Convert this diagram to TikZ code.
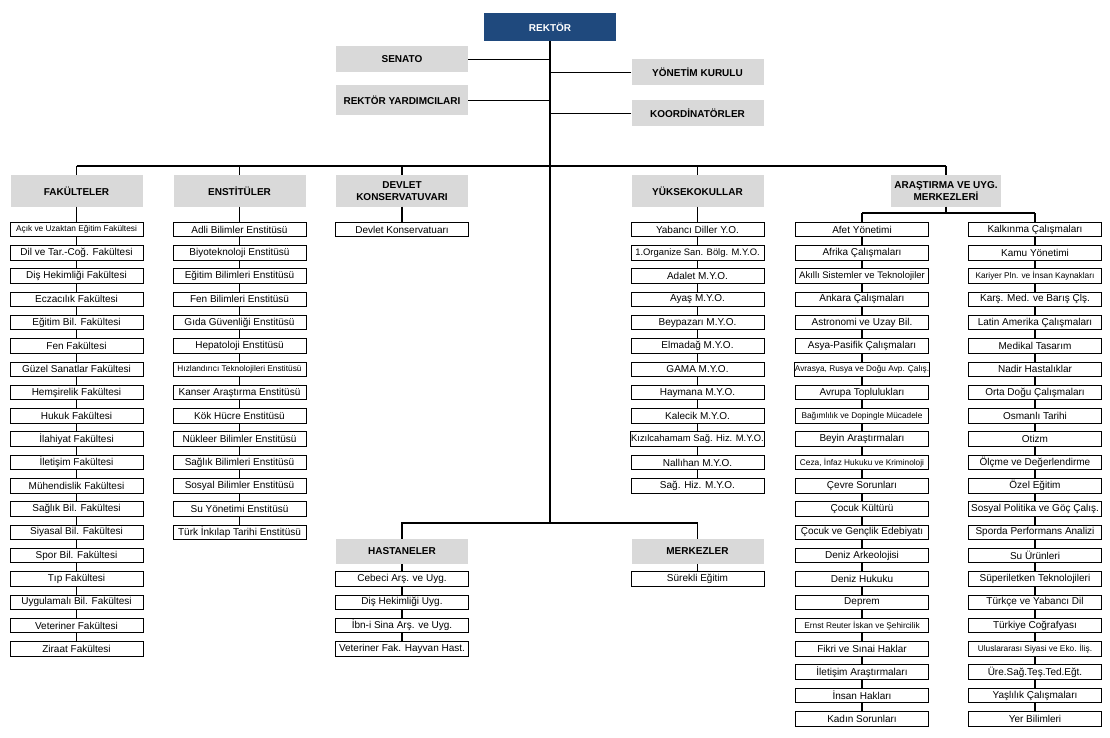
\documentclass[tikz,border=0pt]{standalone}
\usepackage{fontspec}
\setmainfont{Liberation Sans}
\usetikzlibrary{positioning,calc}
\definecolor{rektorblue}{RGB}{31,73,125}
\definecolor{boxgray}{RGB}{217,217,217}
\newcommand{\narrowtxt}{\fontsize{8.3}{9}\selectfont}

\begin{document}
\begin{tikzpicture}[x=1pt, y=-1pt,
    chief/.style={rectangle, fill=rektorblue, text=white, font=\bfseries, minimum width=132pt, minimum height=28pt},
    board/.style={rectangle, fill=boxgray, font=\bfseries, minimum width=132pt, minimum height=26pt, align=center},
    head/.style={board, minimum height=31pt},
    unit/.style={draw, rectangle, fill=white, line width=1pt, minimum width=133pt, minimum height=14.5pt, inner sep=0.5pt, text centered},
    link/.style={draw, line width=1.3pt}
]
\useasboundingbox (0,0) rectangle (1110,738);

\node[chief] (rektor) at (550,27) {REKTÖR};
\node[board] (senato) at (402,59.5) {SENATO};
\node[board, minimum height=30pt] (yardimci) at (402,100.5) {REKTÖR YARDIMCILARI};
\node[board] (yonetim) at (697.5,72.5) {YÖNETİM KURULU};
\node[board] (koord) at (697.5,113.5) {KOORDİNATÖRLER};

\coordinate (hub) at (550,166);
\coordinate (low) at (550,523);
\draw[link] (rektor) -- (low);
\draw[link] (senato) -- (senato -| rektor);
\draw[link] (yardimci) -- (yardimci -| rektor);
\draw[link] (yonetim) -- (yonetim -| rektor);
\draw[link] (koord) -- (koord -| rektor);

\node[head, alias=fak0] (fak) at (76.5,191) {FAKÜLTELER};
\node[head, alias=ens0] (ens) at (239.5,191) {ENSTİTÜLER};
\node[head] (kon) at (402,191) {DEVLET\\KONSERVATUVARI};
\node[head, alias=yuk0] (yuk) at (697.5,191) {YÜKSEKOKULLAR};
\node[head, minimum width=108pt] (ara) at (946,191) {ARAŞTIRMA VE UYG.\\MERKEZLERİ};

\draw[link] (hub -| fak) -- (hub -| ara);
\foreach \h in {fak,ens,kon,yuk,ara}
  \draw[link] (hub -| \h) -- (\h);

\foreach \t [count=\i] in {{\narrowtxt Açık ve Uzaktan Eğitim Fakültesi}, Dil ve Tar.-Coğ. Fakültesi,
    Diş Hekimliği Fakültesi, Eczacılık Fakültesi, Eğitim Bil. Fakültesi, Fen Fakültesi,
    Güzel Sanatlar Fakültesi, Hemşirelik Fakültesi, Hukuk Fakültesi, İlahiyat Fakültesi,
    İletişim Fakültesi, Mühendislik Fakültesi, Sağlık Bil. Fakültesi, Siyasal Bil. Fakültesi,
    Spor Bil. Fakültesi, Tıp Fakültesi, Uygulamalı Bil. Fakültesi, Veteriner Fakültesi, Ziraat Fakültesi}{
  \node[unit] (fak\i) at (76.5,206.2+23.3*\i) {\t};
  \pgfmathtruncatemacro{\prev}{\i-1}
  \draw[link] (fak\prev) -- (fak\i);
}

\foreach \t [count=\i] in {Adli Bilimler Enstitüsü, Biyoteknoloji Enstitüsü, Eğitim Bilimleri Enstitüsü,
    Fen Bilimleri Enstitüsü, Gıda Güvenliği Enstitüsü, Hepatoloji Enstitüsü,
    {\narrowtxt Hızlandırıcı Teknolojileri Enstitüsü}, Kanser Araştırma Enstitüsü, Kök Hücre Enstitüsü,
    Nükleer Bilimler Enstitüsü, Sağlık Bilimleri Enstitüsü, Sosyal Bilimler Enstitüsü,
    Su Yönetimi Enstitüsü, Türk İnkılap Tarihi Enstitüsü}{
  \node[unit] (ens\i) at (239.5,206.2+23.3*\i) {\t};
  \pgfmathtruncatemacro{\prev}{\i-1}
  \draw[link] (ens\prev) -- (ens\i);
}

\node[unit] (kon1) at (402,229.5) {Devlet Konservatuarı};
\draw[link] (kon) -- (kon1);

\foreach \t [count=\i] in {Yabancı Diller Y.O., {\fontsize{9.4}{10}\selectfont 1.Organize San. Bölg. M.Y.O.},
    Adalet M.Y.O., Ayaş M.Y.O., Beypazarı M.Y.O., Elmadağ M.Y.O., GAMA M.Y.O., Haymana M.Y.O.,
    Kalecik M.Y.O., {\fontsize{9.4}{10}\selectfont Kızılcahamam Sağ. Hiz. M.Y.O.}, Nallıhan M.Y.O., Sağ. Hiz. M.Y.O.}{
  \node[unit] (yuk\i) at (697.5,206.2+23.3*\i) {\t};
  \pgfmathtruncatemacro{\prev}{\i-1}
  \draw[link] (yuk\prev) -- (yuk\i);
}

\coordinate (arsA0) at (862,213);
\coordinate (arsB0) at (1035,213);
\draw[link] (arsA0) -- (arsB0);
\draw[link] (ara) -- (ara |- arsA0);

\foreach \t [count=\i] in {Afet Yönetimi, Afrika Çalışmaları, {\fontsize{9.5}{10}\selectfont Akıllı Sistemler ve Teknolojiler},
    Ankara Çalışmaları, Astronomi ve Uzay Bil., Asya-Pasifik Çalışmaları,
    {\narrowtxt Avrasya, Rusya ve Doğu Avp. Çalış.}, Avrupa Toplulukları,
    {\narrowtxt Bağımlılık ve Dopingle Mücadele}, Beyin Araştırmaları,
    {\narrowtxt Ceza, İnfaz Hukuku ve Kriminoloji}, Çevre Sorunları, Çocuk Kültürü,
    Çocuk ve Gençlik Edebiyatı, Deniz Arkeolojisi, Deniz Hukuku, Deprem,
    {\narrowtxt Ernst Reuter İskan ve Şehircilik}, Fikri ve Sınai Haklar, İletişim Araştırmaları,
    İnsan Hakları, Kadın Sorunları}{
  \node[unit] (arsA\i) at (862,206.2+23.3*\i) {\t};
  \pgfmathtruncatemacro{\prev}{\i-1}
  \draw[link] (arsA\prev) -- (arsA\i);
}

\foreach \t [count=\i] in {Kalkınma Çalışmaları, Kamu Yönetimi, {\narrowtxt Kariyer Pln. ve İnsan Kaynakları},
    Karş. Med. ve Barış Çlş., Latin Amerika Çalışmaları, Medikal Tasarım, Nadir Hastalıklar,
    Orta Doğu Çalışmaları, Osmanlı Tarihi, Otizm, Ölçme ve Değerlendirme, Özel Eğitim,
    Sosyal Politika ve Göç Çalış., Sporda Performans Analizi, Su Ürünleri,
    Süperiletken Teknolojileri, Türkçe ve Yabancı Dil, Türkiye Coğrafyası,
    {\narrowtxt Uluslararası Siyasi ve Eko. İliş.}, Üre.Sağ.Teş.Ted.Eğt., Yaşlılık Çalışmaları, Yer Bilimleri}{
  \node[unit] (arsB\i) at (1035,206.2+23.3*\i) {\t};
  \pgfmathtruncatemacro{\prev}{\i-1}
  \draw[link] (arsB\prev) -- (arsB\i);
}

\node[board, minimum height=25pt, alias=has0] (has) at (402,551.5) {HASTANELER};
\node[board, minimum height=25pt] (mer) at (697.5,551.5) {MERKEZLER};
\draw[link] (has) |- (low) -| (mer);

\foreach \t [count=\i] in {Cebeci Arş. ve Uyg., Diş Hekimliği Uyg., İbn-i Sina Arş. ve Uyg., Veteriner Fak. Hayvan Hast.}{
  \node[unit] (has\i) at (402,555.7+23.3*\i) {\t};
  \pgfmathtruncatemacro{\prev}{\i-1}
  \draw[link] (has\prev) -- (has\i);
}

\node[unit] (mer1) at (697.5,579) {Sürekli Eğitim};
\draw[link] (mer) -- (mer1);

\end{tikzpicture}
\end{document}
